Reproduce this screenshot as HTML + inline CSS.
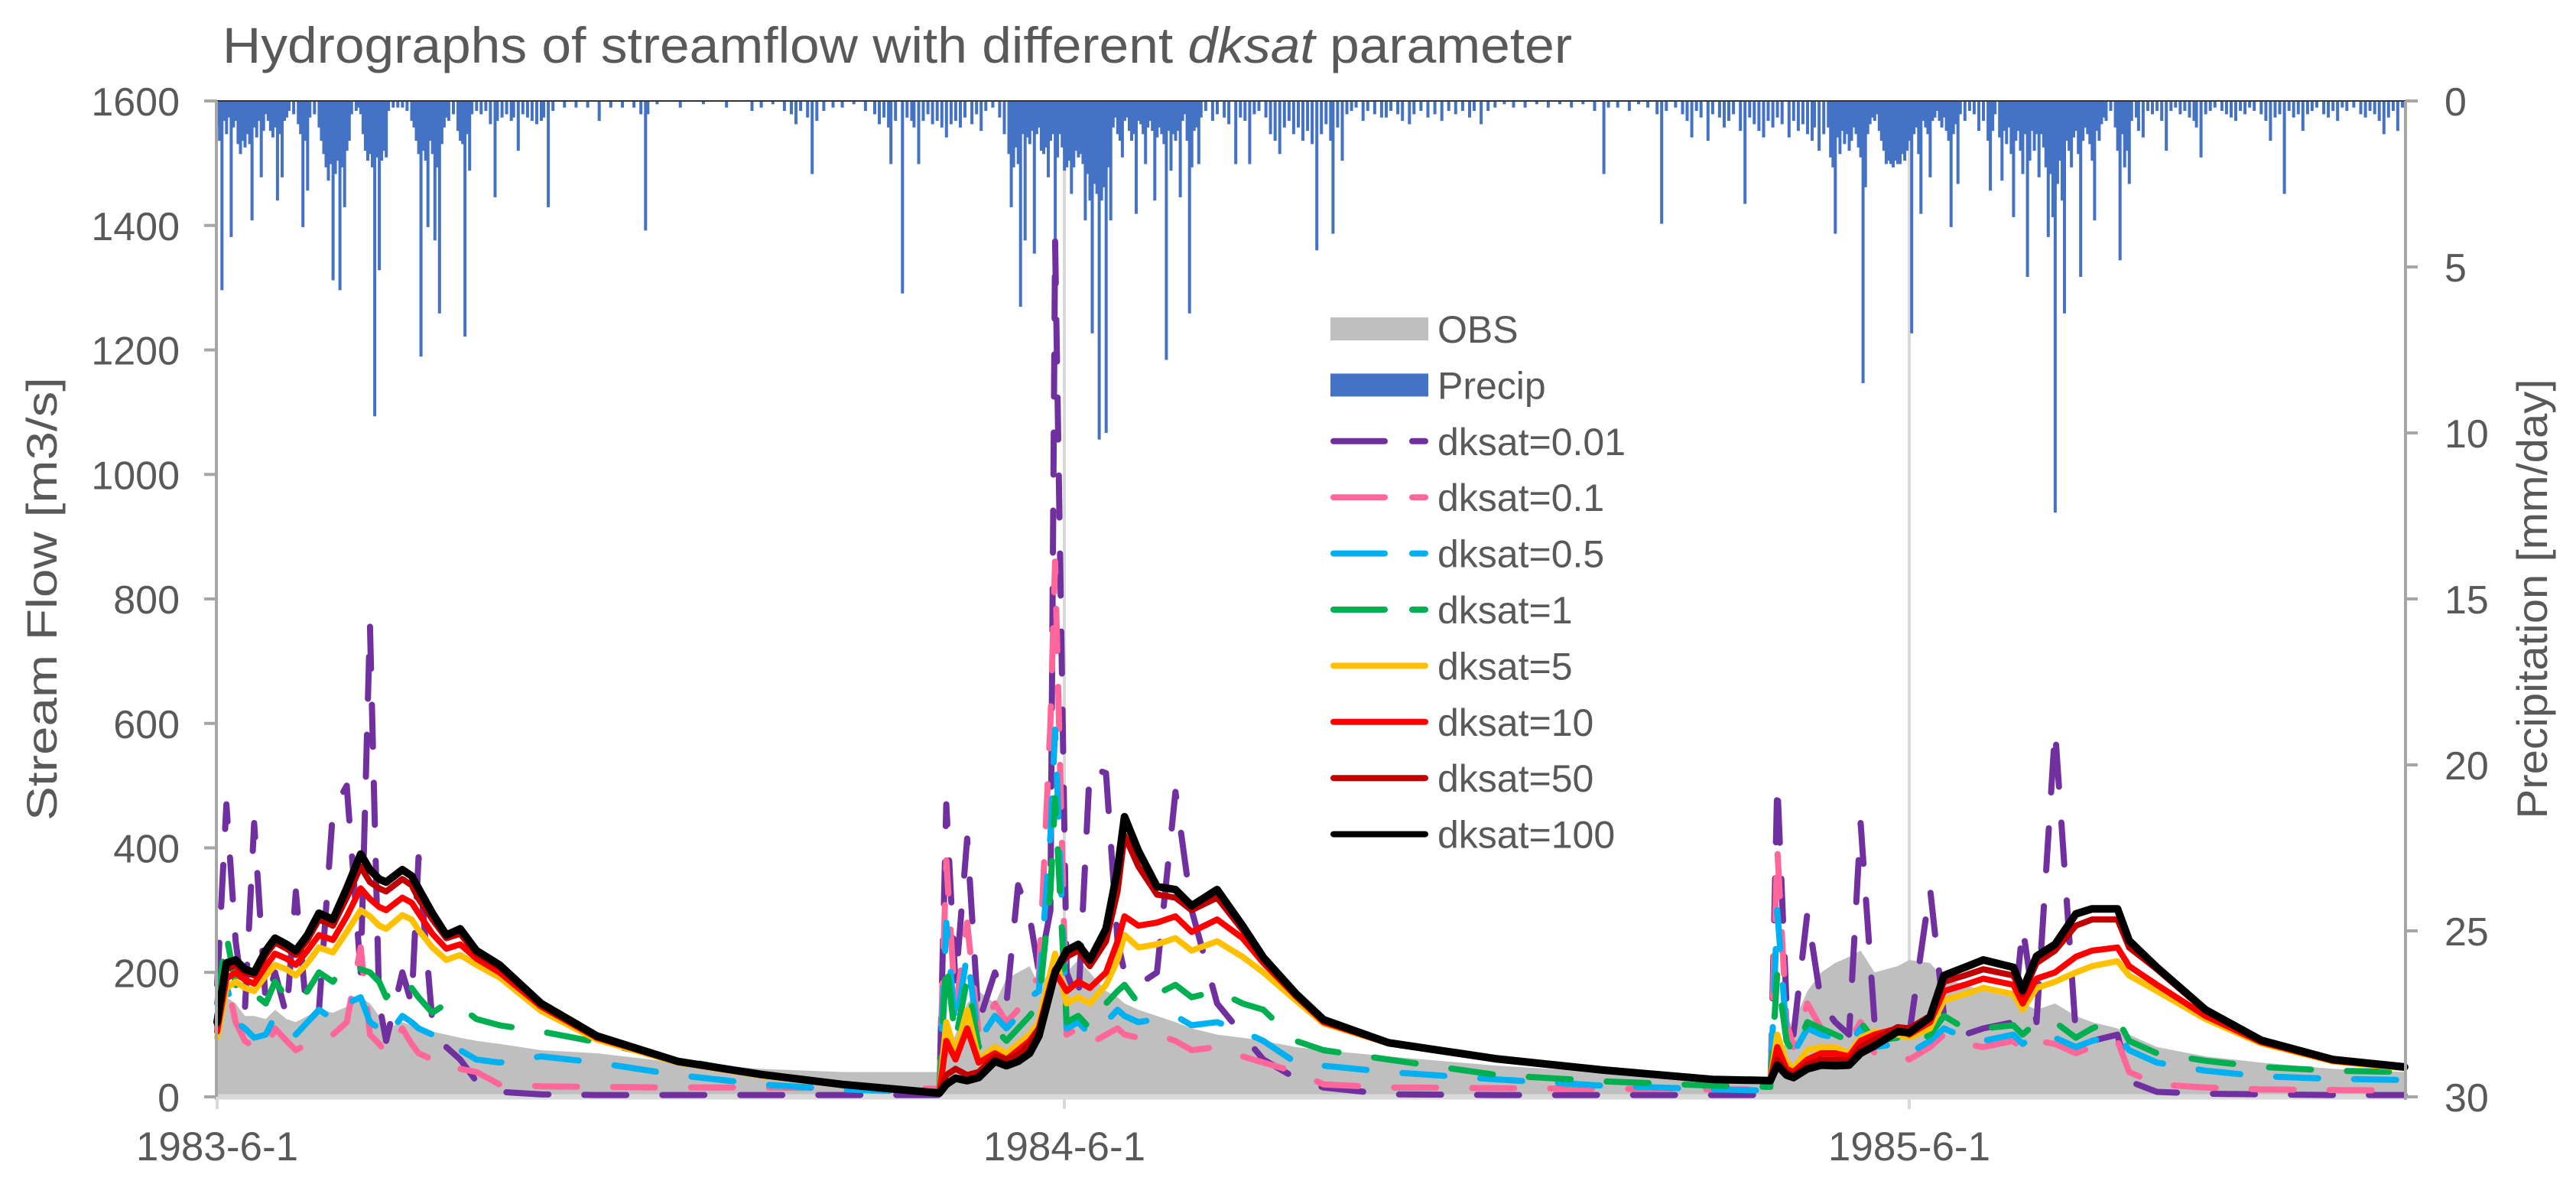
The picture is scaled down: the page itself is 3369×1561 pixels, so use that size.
<!DOCTYPE html>
<html><head><meta charset="utf-8"><style>
html,body{margin:0;padding:0;background:#fff;}
svg{display:block;font-family:"Liberation Sans",Arial,sans-serif;}
</style></head>
<body>
<svg id="chart" xmlns="http://www.w3.org/2000/svg" width="3369" height="1561" viewBox="0 0 3369 1561">
<rect x="0" y="0" width="3369" height="1561" fill="#fff"/>
<text x="291" y="82" font-size="66" fill="#595959" textLength="1765" lengthAdjust="spacingAndGlyphs">Hydrographs of streamflow with different <tspan font-style="italic">dksat</tspan> parameter</text>
<g id="plot"></g>
<g id="axes"></g>
<text transform="translate(74,783) rotate(-90)" text-anchor="middle" font-size="56" fill="#595959" textLength="580" lengthAdjust="spacingAndGlyphs">Stream Flow [m3/s]</text>
<text transform="translate(3331,783) rotate(-90)" text-anchor="middle" font-size="56" fill="#595959" textLength="575" lengthAdjust="spacingAndGlyphs">Precipitation [mm/day]</text>
<g id="legend"></g>
</svg>
<script>
const flowDays = [0,4,8,12,16,21,25,30,34,39,44,50,56,62,66,70,73,80,84,87,93,99,105,112,122,140,164,199,235,270,
312,315,319,324,329,336,341,346,351,355,360,362,367,372,377,384,389,392,398,406,414,421,432,443,452,466,478,
506,553,599,646,671,674,678,681,687,693,699,705,710,716,726,731,740,746,755,763,776,780,786,794,803,810,821,826,838,859,883,914,945];
const obsFlow = [140,160,150,130,130,125,140,125,120,130,140,135,145,160,150,130,110,120,115,110,105,100,95,90,85,75,70,55,45,40,
40,70,100,150,170,150,190,200,210,180,200,220,200,220,200,170,160,150,140,130,120,110,100,95,90,80,75,
65,50,40,30,28,60,90,120,170,200,215,225,235,200,210,220,215,190,180,170,160,150,140,150,130,120,110,100,80,65,55,45,40];
const flowK001 = [180,470,250,140,440,150,200,130,330,120,140,460,500,200,760,150,90,200,150,385,120,80,60,25,8,4,3,3,3,3,
3,470,180,415,120,200,150,340,290,200,300,1375,200,150,530,520,250,200,180,200,490,300,150,100,60,30,15,
4,3,3,3,3,505,150,100,296,150,120,100,440,120,110,100,335,130,100,110,120,273,120,590,100,90,100,25,8,5,4,3,3];
const flowK01 = [110,190,120,90,80,75,110,90,75,85,95,100,120,240,100,85,70,110,85,70,60,60,45,40,20,17,16,15,15,14,
13,380,140,280,100,150,120,140,180,190,600,860,100,110,85,100,110,100,95,100,90,75,80,65,55,40,20,
15,14,13,12,12,400,120,80,150,110,100,90,120,70,70,60,80,100,85,80,90,75,90,85,70,80,90,40,20,15,12,11,10];
const flowK05 = [130,180,120,110,95,100,130,110,100,120,140,125,150,160,120,110,95,130,120,110,100,80,75,60,55,65,55,35,20,12,
7,280,110,230,90,130,110,130,160,170,420,590,110,120,100,120,140,130,120,125,130,115,120,105,90,55,50,
40,28,18,12,10,300,100,70,110,100,95,85,110,80,85,70,90,110,95,90,100,85,100,95,80,90,100,75,55,42,33,29,27];
const flowK1 = [150,260,180,155,165,150,185,160,150,170,200,185,215,205,200,185,160,190,175,160,135,150,145,125,115,105,88,60,35,20,
8,220,90,190,80,110,90,110,130,150,330,480,120,130,110,150,170,180,150,165,180,160,170,150,140,90,75,
60,35,25,18,16,200,90,70,120,110,100,90,120,90,95,80,100,130,110,110,115,100,120,120,95,110,125,90,70,58,48,42,40];
const flowK5 = [95,175,185,175,170,195,212,205,195,215,240,232,265,300,290,275,270,292,285,268,240,220,228,212,192,138,92,55,34,19,
6,120,70,140,60,80,70,85,100,120,200,230,150,160,150,180,220,260,240,245,255,235,250,225,200,155,118,
86,60,42,27,26,100,55,45,75,80,80,70,95,105,100,95,110,155,165,175,165,140,175,185,200,210,218,195,170,125,86,57,46];
const flowK10 = [105,190,200,188,182,210,230,222,212,235,260,252,290,335,318,305,300,320,312,295,262,238,245,222,200,145,95,56,35,19,
6,90,60,110,55,70,60,75,90,110,170,200,170,185,175,200,250,290,275,280,290,265,285,255,215,162,120,
86,60,42,27,26,80,45,40,60,70,70,65,90,100,110,100,120,170,180,190,180,150,190,200,225,235,240,210,180,130,88,58,47];
const flowK50 = [115,205,212,200,195,228,248,238,228,252,285,275,320,370,345,335,330,350,340,318,285,255,262,230,208,148,96,56,35,19,
6,35,45,35,40,65,60,68,85,110,180,205,225,235,210,250,330,420,370,325,320,300,320,268,220,162,122,
86,60,42,27,26,60,40,35,52,60,60,58,80,92,112,110,130,185,195,205,195,165,215,235,275,285,285,240,205,138,90,60,48];
const flowK100 = [120,215,220,205,200,235,255,245,235,260,295,285,335,390,365,350,345,365,355,335,295,260,270,235,212,150,98,57,36,20,
6,20,30,26,31,57,50,57,70,98,170,200,235,245,220,270,365,450,395,338,333,307,333,275,224,166,124,
87,61,43,28,26,51,35,31,45,51,50,51,70,82,105,103,128,195,208,220,208,171,226,245,294,302,302,251,208,140,91,60,48];
const precipData = [[0,0.8],[1,1.2],[2,5.7],[3,0.6],[4,1.0],[5,0.5],[6,4.1],[7,0.8],[8,0.6],[9,1.3],[10,1.6],[11,1.2],[12,1.4],[13,1.0],[14,1.3],[15,3.6],[16,0.8],[17,1.1],[18,0.6],[19,2.3],[20,0.9],[21,0.4],[22,0.6],[23,0.9],[24,1.1],[25,0.8],[26,3.0],[27,1.0],[28,2.3],[29,0.6],[30,0.5],[31,0.3],[33,0.4],[35,0.7],[36,1.0],[37,3.8],[38,1.2],[39,2.7],[40,0.5],[42,0.4],[44,0.8],[45,1.2],[46,1.6],[47,2.0],[48,2.4],[49,1.9],[50,5.4],[51,2.2],[52,1.8],[53,5.7],[54,2.0],[55,3.2],[56,1.5],[57,1.2],[58,0.4],[60,0.3],[61,0.2],[62,0.4],[63,1.0],[64,1.5],[65,1.8],[66,1.6],[67,2.0],[68,9.5],[69,1.7],[70,5.1],[71,1.8],[72,1.5],[73,1.7],[74,0.3],[76,0.2],[78,0.2],[80,0.2],[82,0.3],[84,0.6],[85,0.8],[86,1.2],[87,1.6],[88,7.7],[89,1.5],[90,1.8],[91,3.8],[92,1.2],[93,1.6],[94,4.2],[95,2.0],[96,6.4],[97,1.3],[98,0.8],[99,0.5],[100,0.6],[102,0.4],[104,0.9],[105,1.2],[106,1.3],[107,7.1],[108,1.0],[109,2.1],[110,0.4],[112,0.3],[114,0.4],[116,0.3],[118,0.7],[120,2.9],[121,0.6],[123,0.5],[125,0.4],[127,0.6],[128,0.5],[130,1.5],[132,0.4],[134,0.5],[136,0.6],[138,0.7],[140,0.6],[141,0.5],[143,3.2],[145,0.3],[150,0.2],[155,0.2],[160,0.2],[165,0.6],[170,0.2],[175,0.2],[180,0.2],[183,0.4],[185,3.9],[186,0.4],[190,0.1],[200,0.2],[210,0.1],[220,0.2],[231,0.3],[235,0.2],[240,0.1],[245,0.3],[248,0.4],[250,0.7],[252,0.3],[255,0.5],[257,2.2],[259,0.6],[262,0.3],[266,0.2],[270,0.2],[275,0.1],[280,0.3],[284,0.4],[286,0.7],[288,0.5],[290,0.8],[291,1.9],[293,0.6],[296,5.8],[298,0.5],[300,0.6],[301,0.8],[303,1.9],[305,0.6],[307,0.4],[309,0.7],[311,0.6],[313,0.8],[315,1.1],[317,0.7],[319,0.6],[321,0.8],[323,0.5],[326,0.7],[328,0.4],[330,0.9],[332,0.3],[335,0.2],[338,0.5],[340,1.0],[342,1.6],[343,3.2],[344,2.0],[345,1.4],[346,1.9],[347,6.2],[348,1.0],[349,4.2],[350,1.1],[351,1.3],[352,0.9],[353,4.6],[354,1.0],[355,0.8],[356,1.5],[357,1.6],[358,1.4],[359,2.3],[360,1.2],[361,1.0],[362,5.3],[363,1.7],[364,1.0],[365,1.4],[366,2.1],[367,2.0],[368,1.8],[369,2.8],[370,2.0],[371,1.5],[372,1.7],[373,1.6],[374,1.9],[375,3.6],[376,2.2],[377,3.0],[378,7.0],[379,2.5],[380,2.8],[381,10.2],[382,3.0],[383,2.6],[384,10.0],[385,2.0],[386,3.6],[387,0.8],[388,0.5],[389,1.0],[390,1.2],[391,1.7],[392,0.6],[393,0.5],[394,0.9],[395,1.2],[396,1.0],[397,3.4],[398,0.6],[399,0.7],[400,1.0],[401,1.9],[402,0.8],[403,0.6],[404,0.9],[405,3.0],[406,1.1],[407,0.8],[408,1.0],[409,1.3],[410,7.8],[411,0.9],[412,2.1],[413,1.0],[414,1.2],[415,0.9],[416,2.9],[417,0.6],[418,0.4],[419,1.2],[420,6.4],[421,2.0],[422,0.9],[423,0.8],[424,1.9],[425,0.5],[427,0.3],[430,0.6],[432,0.4],[435,0.5],[437,0.7],[440,1.9],[442,0.5],[444,0.6],[446,1.9],[448,0.4],[450,0.3],[453,0.5],[455,1.0],[457,1.2],[459,1.6],[461,0.8],[463,0.6],[465,1.0],[467,0.8],[469,1.2],[471,0.9],[473,1.3],[475,4.5],[477,1.0],[479,0.7],[481,1.2],[482,4.0],[484,0.8],[486,1.8],[488,0.4],[490,0.3],[492,0.2],[495,0.6],[497,0.3],[500,0.4],[503,0.5],[505,0.5],[507,0.3],[510,0.4],[512,0.6],[515,0.7],[517,0.4],[520,0.3],[523,0.5],[526,0.4],[529,0.6],[532,0.3],[535,0.4],[538,0.3],[541,0.5],[543,0.3],[546,0.7],[549,0.3],[552,0.2],[556,0.1],[560,0.2],[565,0.2],[570,0.1],[575,0.2],[580,0.1],[585,0.2],[590,0.1],[595,0.3],[599,2.2],[601,0.2],[605,0.2],[610,0.3],[614,0.1],[618,0.2],[622,0.4],[624,3.7],[626,0.3],[630,0.2],[633,0.4],[635,0.6],[637,1.1],[639,0.3],[641,0.5],[644,1.2],[646,0.4],[649,0.5],[651,0.8],[653,0.6],[655,0.4],[658,0.9],[660,3.1],[662,0.5],[664,0.7],[666,0.9],[668,1.1],[670,0.6],[672,0.8],[674,0.5],[676,0.7],[679,1.1],[681,0.6],[683,0.9],[685,0.7],[687,1.0],[689,1.2],[690,0.8],[692,1.5],[694,1.0],[696,0.8],[697,1.7],[698,2.0],[699,4.0],[700,1.1],[701,1.6],[702,0.9],[703,1.3],[704,1.0],[705,1.5],[706,1.2],[707,0.8],[708,1.0],[709,1.4],[710,1.7],[711,8.5],[712,2.6],[713,1.0],[714,0.7],[715,0.5],[716,0.6],[717,0.4],[718,0.9],[719,1.2],[720,1.5],[721,1.9],[722,1.8],[723,1.9],[724,2.0],[725,1.8],[726,1.9],[727,1.9],[728,1.6],[729,1.8],[730,1.5],[731,1.2],[732,7.0],[733,1.0],[734,0.8],[735,1.6],[736,3.4],[737,0.6],[738,0.8],[739,1.0],[740,2.3],[741,0.6],[742,0.5],[743,0.3],[744,0.6],[745,0.8],[746,0.5],[747,0.9],[748,1.2],[749,3.8],[750,1.0],[751,0.7],[752,2.5],[753,0.4],[755,0.6],[757,0.3],[759,0.4],[761,0.9],[763,0.6],[765,1.2],[766,2.7],[767,0.9],[768,0.4],[770,1.1],[771,2.4],[772,0.9],[773,1.3],[774,0.8],[775,1.6],[776,3.5],[777,1.2],[778,0.9],[779,1.5],[780,2.2],[781,1.0],[782,5.3],[783,1.8],[784,0.9],[785,1.5],[786,1.0],[787,2.3],[788,1.0],[789,1.4],[790,2.0],[791,4.1],[792,2.2],[793,3.5],[794,12.4],[795,2.5],[796,1.8],[797,3.0],[798,6.4],[799,1.2],[800,1.5],[801,2.0],[802,1.1],[803,0.9],[804,1.6],[805,5.3],[806,1.2],[807,0.8],[808,1.0],[809,1.3],[810,1.8],[811,3.6],[812,0.9],[813,1.2],[814,0.7],[815,0.5],[816,0.6],[818,0.3],[820,0.8],[821,1.5],[822,4.8],[823,1.0],[824,2.0],[825,1.5],[826,2.5],[827,0.6],[829,0.5],[830,0.9],[832,1.1],[834,0.3],[836,0.4],[838,0.3],[840,0.6],[842,1.5],[844,0.3],[846,0.2],[848,0.4],[850,0.3],[852,0.5],[854,0.6],[855,0.8],[857,1.7],[859,0.4],[861,0.3],[863,0.2],[866,0.3],[868,0.4],[870,0.5],[872,0.6],[874,0.3],[876,0.4],[878,0.2],[880,0.3],[883,0.4],[885,0.6],[887,1.2],[889,0.5],[891,0.4],[893,2.8],[895,0.3],[897,0.5],[899,0.4],[901,0.9],[903,0.4],[905,0.3],[907,0.2],[910,0.4],[912,0.5],[914,0.3],[916,0.6],[918,0.2],[920,0.3],[923,0.2],[926,0.4],[928,0.5],[930,0.3],[932,0.4],[934,0.6],[936,1.0],[938,0.5],[940,0.3],[942,0.9],[944,0.2]];
const flowTicks = [0,200,400,600,800,1000,1200,1400,1600];
const precipTicks = [0,5,10,15,20,25,30];
const dateLabels = ["1983-6-1","1984-6-1","1985-6-1"];
const dateLabelDays = [0,366,731];
const seriesNames = ["dksat=0.01","dksat=0.1","dksat=0.5","dksat=1","dksat=5","dksat=10","dksat=50","dksat=100"];

const NS = "http://www.w3.org/2000/svg";
const X0 = 284, X1 = 3146, Y0 = 1434, YT = 132;
const PX_PER_DAY = 1108 / 366;
function xScale(d){ return X0 + d * PX_PER_DAY; }
function yFlow(v){ return Y0 - v * (Y0 - YT) / 1600; }
function yPrecip(p){ return YT + p * (Y0 - YT) / 30; }
function mk(tag, attrs, parent){
  const el = document.createElementNS(NS, tag);
  for (const k in attrs) el.setAttribute(k, attrs[k]);
  parent.appendChild(el);
  return el;
}
const plot = document.getElementById('plot');
const axes = document.getElementById('axes');
const legend = document.getElementById('legend');

dateLabelDays.forEach(function(d, i){
  if (i === 0) return;
  const g = mk('line', {x1: xScale(d), x2: xScale(d), y1: YT, y2: 1450, stroke: '#d9d9d9', 'stroke-width': 4}, plot);
  
  
});

let pts = xScale(flowDays[0]) + ',' + yFlow(0) + ' ';
flowDays.forEach(function(d, i){ pts += xScale(d).toFixed(1) + ',' + yFlow(obsFlow[i]).toFixed(1) + ' '; });
pts += xScale(flowDays[flowDays.length - 1]) + ',' + yFlow(0);
const obsArea = mk('polygon', {points: pts, fill: '#bfbfbf'}, plot);



const xb = mk('line', {x1: X0, x2: X1, y1: Y0, y2: Y0, stroke: '#d9d9d9', 'stroke-width': 7}, plot);



precipData.forEach(function(p){
  const x = xScale(p[0]);
  const r = mk('rect', {x: (x - 1.8).toFixed(1), y: YT, width: 4, height: (yPrecip(p[1]) - YT).toFixed(1), fill: '#4472c4'}, plot);
  
  
});
const topLine = mk('line', {x1: X0, x2: X1, y1: YT, y2: YT, stroke: '#333', 'stroke-width': 2}, plot);



const seriesVals = [flowK001, flowK01, flowK05, flowK1, flowK5, flowK10, flowK50, flowK100];
const seriesColors = ['#7030a0','#ff6699','#00b0f0','#00b050','#ffc000','#ff0000','#c00000','#000000'];
const seriesDashed = [true,true,true,true,false,false,false,false];
seriesVals.forEach(function(vals, s){
  let d = '';
  flowDays.forEach(function(day, i){
    d += (i ? 'L' : 'M') + xScale(day).toFixed(1) + ',' + yFlow(vals[i]).toFixed(1);
  });
  const attrs = {d: d, fill: 'none', stroke: seriesColors[s], 'stroke-width': s === 7 ? 10 : 8, 'stroke-linejoin': 'round', 'stroke-linecap': 'round'};
  if (seriesDashed[s]) attrs['stroke-dasharray'] = '55 47';
  const p = mk('path', attrs, plot);
  
  
});

const la = mk('line', {x1: X0 - 1, x2: X0 - 1, y1: YT, y2: Y0 + 4, stroke: '#a6a6a6', 'stroke-width': 4}, axes);


flowTicks.forEach(function(v){
  const t = mk('line', {x1: 267, x2: X0, y1: yFlow(v), y2: yFlow(v), stroke: '#a6a6a6', 'stroke-width': 4}, axes);
  
  
  const lb = mk('text', {x: 235, y: yFlow(v) + 19, 'text-anchor': 'end', 'font-size': 52, fill: '#595959'}, axes);
  lb.textContent = String(v);
  
  
});
const ra = mk('line', {x1: X1, x2: X1, y1: YT, y2: Y0 + 4, stroke: '#a6a6a6', 'stroke-width': 4}, axes);


precipTicks.forEach(function(v){
  const t = mk('line', {x1: X1, x2: X1 + 16, y1: yPrecip(v), y2: yPrecip(v), stroke: '#a6a6a6', 'stroke-width': 4}, axes);
  
  
  const lb = mk('text', {x: 3197, y: yPrecip(v) + 19, 'text-anchor': 'start', 'font-size': 52, fill: '#595959'}, axes);
  lb.textContent = String(v);
  
  
});
dateLabels.forEach(function(lab, i){
  const x = xScale(dateLabelDays[i]);
  const t = mk('line', {x1: x, x2: x, y1: Y0, y2: 1450, stroke: '#d9d9d9', 'stroke-width': 4}, axes);
  
  
  const lb = mk('text', {x: x, y: 1517, 'text-anchor': 'middle', 'font-size': 53, fill: '#595959'}, axes);
  lb.textContent = lab;
  
  
});

const legendLabels = ['OBS', 'Precip'].concat(seriesNames);
legendLabels.forEach(function(lab, i){
  const cy = 430 + i * 73.4;
  const g = mk('g', {}, legend);
  
  
  if (i < 2) {
    mk('rect', {x: 1740, y: cy - 15, width: 128, height: 30, fill: i === 0 ? '#bfbfbf' : '#4472c4'}, g);
  } else {
    const s = i - 2;
    if (seriesDashed[s]) {
      mk('line', {x1: 1744, x2: 1811, y1: cy, y2: cy, stroke: seriesColors[s], 'stroke-width': 8, 'stroke-linecap': 'round'}, g);
      mk('line', {x1: 1847, x2: 1864, y1: cy, y2: cy, stroke: seriesColors[s], 'stroke-width': 8, 'stroke-linecap': 'round'}, g);
    } else {
      mk('line', {x1: 1744, x2: 1864, y1: cy, y2: cy, stroke: seriesColors[s], 'stroke-width': 8, 'stroke-linecap': 'round'}, g);
    }
  }
  const t = mk('text', {x: 1880, y: cy + 18, 'font-size': 50, fill: '#595959'}, g);
  t.textContent = lab;
});
</script>
</body></html>
